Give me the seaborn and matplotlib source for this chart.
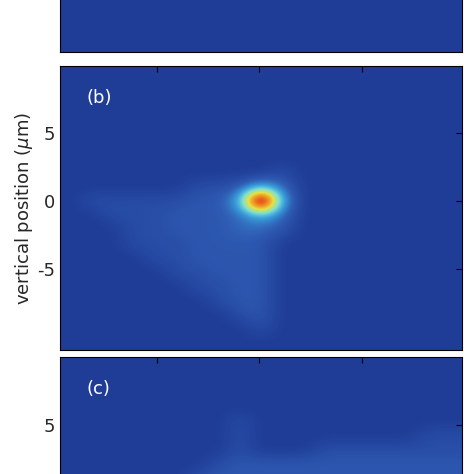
import numpy as np
import matplotlib
matplotlib.use("Agg")
import matplotlib.pyplot as plt
from matplotlib.colors import LinearSegmentedColormap
import seaborn as sns

sns.set_style("white")
plt.rcParams['font.family'] = ['DejaVu Sans']

# coarse intensity maps, rows y = 9 .. -10, columns x = -9 .. 9 (one char per cell)
levels = {'.': 0.0, 'a': 0.09, 'b': 0.14, 'c': 0.2, '2': 0.36, '9': 1.6}

rows_a = ['.' * 19] * 20

rows_b = ['.' * 19] * 7 + [
    '..........a........',
    '......aab2c........',
    '.aaaaabb292........',
    '..aaabbbc2c........',
    '...aabbbccb........',
    '...aaabbbb.........',
    '....aabbbb.........',
    '.....aabbb.........',
    '......aabb.........',
    '.......abb.........',
    '........ab.........',
    '.........a.........',
    '...................',
]

rows_c = ['.' * 19] * 4 + [
    '........a..........',
    '........a........aa',
    '........a...aaaaaaa',
    '.......abbbbbbbbbbb',
    '......abbbbbbbbbbbb',
    '......abbbbbbbbbbbb',
    '......abbbbbbbbbbbb',
] + ['.' * 19] * 9

y_ticks = [-5, 0, 5]
x_ticks = [-5, 0, 5]
panel_labels = ['', '(b)', '(c)']

cmap = LinearSegmentedColormap.from_list(
    'mjet', ['#1f3c96', '#2f5cb4', '#3aa0dc', '#7fe0d0', '#e8e040', '#f08020', '#c81818'])


def to_grid(rows):
    return np.array([[levels[ch] for ch in r] for r in rows])


fig = plt.figure(figsize=(4.74, 4.74), dpi=100)
bottoms = [0.890, 0.262, -0.352]
for rows, bot, lab in zip([rows_a, rows_b, rows_c], bottoms, panel_labels):
    ax = fig.add_axes([0.127, bot, 0.848, 0.599])
    ax.imshow(to_grid(rows), cmap=cmap, vmin=0, vmax=1, aspect='auto',
              interpolation='bicubic', extent=[-9.7, 9.9, -11, 10])
    ax.set_xlim(-9.7, 9.9)
    ax.set_ylim(-11, 10)
    ax.set_xticks(x_ticks)
    ax.set_xticklabels([])
    ax.set_yticks(y_ticks)
    if lab == '(b)':
        ax.set_yticklabels([str(t) for t in y_ticks], fontsize=13)
    elif lab == '(c)':
        ax.set_yticklabels(['', '', '5'], fontsize=13)
    else:
        ax.set_yticklabels([])
    ax.tick_params(direction='in', top=True, right=True, length=4, color='k')
    for s in ax.spines.values():
        s.set_color('k')
        s.set_linewidth(0.8)
    if lab:
        ax.text(-8.4, 7.6, lab, color='white', fontsize=13, va='center')
    if lab == '(b)':
        ax.set_ylabel('vertical position ($\\mu$m)', fontsize=13, labelpad=2)

fig.savefig("out.png", dpi=100)
